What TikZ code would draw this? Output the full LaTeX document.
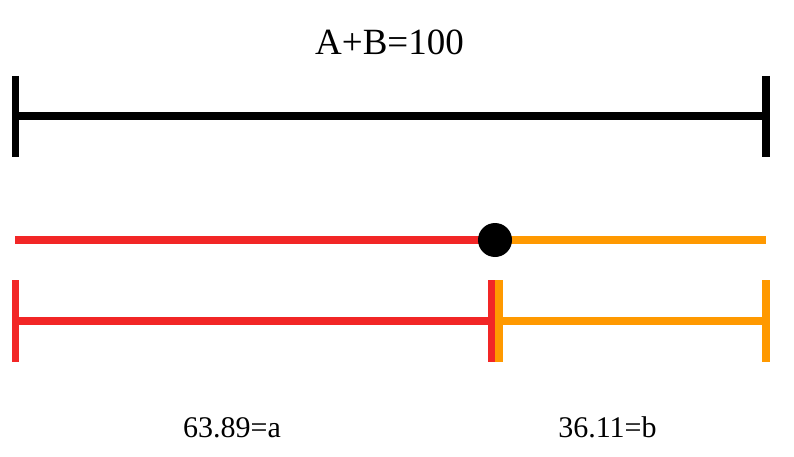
\documentclass[tikz,border=0pt]{standalone}
\usepackage{fontspec}
\setmainfont{Liberation Serif}
\definecolor{myred}{RGB}{242,38,38}
\definecolor{myorange}{RGB}{255,153,0}
\begin{document}
\begin{tikzpicture}[x=1pt,y=-1pt,
  seg/.style={line width=8pt},
  bar/.style={line width=7.5pt},
  lbl/.style={anchor=base,inner sep=0pt}]
\useasboundingbox (0,0) rectangle (794,457);
% top black bracket
\coordinate (tl) at (15.5,116.5);
\coordinate (tr) at (766,116.5);
\draw[seg,black] (tl) -- (tr);
\draw[bar,black] (15.5,76) -- (15.5,157);
\draw[bar,black] (766,76) -- (766,157);
\node[lbl,font=\fontsize{37}{40}\selectfont] (title) at (389.5,55) {A+B=100};
% middle line with dot
\coordinate (ml) at (15,239.5);
\coordinate (mr) at (766,239.5);
\coordinate (dot) at (495,240);
\draw[seg,myred] (ml) -- (dot |- ml);
\draw[seg,myorange] (dot |- ml) -- (mr);
\fill[black] (dot) circle (17);
% bottom brackets
\coordinate (bl) at (15.5,321);
\coordinate (bm1) at (491.5,321);
\coordinate (bm2) at (499,321);
\coordinate (br) at (766,321);
\draw[seg,myred] (bl) -- (bm1);
\draw[bar,myred] (15.5,280) -- (15.5,362);
\draw[bar,myred] (491.5,280) -- (491.5,362);
\draw[seg,myorange] (bm2) -- (br);
\draw[bar,myorange] (499,280) -- (499,362);
\draw[bar,myorange] (766,280) -- (766,362);
\node[lbl,font=\fontsize{30}{34}\selectfont] (la) at (232,437) {63.89=a};
\node[lbl,font=\fontsize{30}{34}\selectfont] (lb) at (607.5,437) {36.11=b};
\end{tikzpicture}
\end{document}
